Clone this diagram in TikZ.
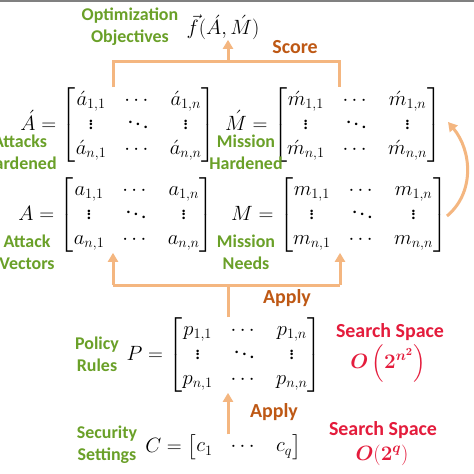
\documentclass[tikz,border=0pt]{standalone}
\usepackage{amsmath,amssymb,bm}
\usepackage{fontspec}
\setmainfont{Carlito}
\usetikzlibrary{arrows.meta,positioning}

\definecolor{lblgreen}{RGB}{106,160,40}
\definecolor{linkorange}{RGB}{244,182,128}
\definecolor{actbrown}{RGB}{190,88,20}
\definecolor{srchred}{RGB}{228,28,60}

\begin{document}
\begin{tikzpicture}[x=1bp,y=1bp,
		lbl/.style={text=lblgreen,font=\bfseries\fontsize{18}{22}\selectfont,align=center,inner sep=0pt},
		mat/.style={font=\fontsize{21}{25}\selectfont\setlength\arraycolsep{9bp},inner sep=0pt},
		act/.style={text=actbrown,font=\bfseries\fontsize{20}{24}\selectfont,inner sep=0pt},
		srch/.style={text=srchred,font=\bfseries\fontsize{20}{24}\selectfont,inner sep=0pt},
		link/.style={draw=linkorange,line width=3bp},
		arr/.style={link,-{Triangle[length=9bp,width=10bp]}}]
		\useasboundingbox (0,0) rectangle (474,-474);
		\clip (0,0) rectangle (474,-474);
		\fill[white] (0,0) rectangle (474,-474);
		\fill[gray] (0,0) rectangle (474,-2.5);

		% objectives
		\node[lbl] (optlbl) at (130,-27) {Optimization\\Objectives};
		\node[mat] (fvec) at (223,-27) {\(\vec{f}(\acute{A},\acute{M})\)};
		\node[act] (score) at (295,-47) {Score};

		% hardened matrices
		\node[mat] (ahard) at (118,-125) {\(\acute{A} = \begin{bmatrix} \acute{a}_{1,1} & \cdots & \acute{a}_{1,n} \\ \vdots & \ddots & \vdots \\ \acute{a}_{n,1} & \cdots & \acute{a}_{n,n} \end{bmatrix}\)};
		\node[mat] (mhard) at (333,-125) {\(\acute{M} = \begin{bmatrix} \acute{m}_{1,1} & \cdots & \acute{m}_{1,n} \\ \vdots & \ddots & \vdots \\ \acute{m}_{n,1} & \cdots & \acute{m}_{n,n} \end{bmatrix}\)};
		\node[lbl] (ahardlbl) at (20,-152) {Attacks\\Hardened};
		\node[lbl] (mhardlbl) at (246,-152) {Mission\\Hardened};

		% original matrices
		\node[mat] (avec) at (116,-215) {\(A = \begin{bmatrix} a_{1,1} & \cdots & a_{1,n} \\ \vdots & \ddots & \vdots \\ a_{n,1} & \cdots & a_{n,n} \end{bmatrix}\)};
		\node[mat] (mvec) at (339,-215) {\(M = \begin{bmatrix} m_{1,1} & \cdots & m_{1,n} \\ \vdots & \ddots & \vdots \\ m_{n,1} & \cdots & m_{n,n} \end{bmatrix}\)};
		\node[lbl] (aveclbl) at (27,-252) {Attack\\Vectors};
		\node[lbl] (mveclbl) at (246,-252) {Mission\\Needs};

		% policy
		\node[act] (apply1) at (287,-298) {Apply};
		\node[mat] (policy) at (224,-355) {\(P = \begin{bmatrix} p_{1,1} & \cdots & p_{1,n} \\ \vdots & \ddots & \vdots \\ p_{n,1} & \cdots & p_{n,n} \end{bmatrix}\)};
		\node[lbl] (policylbl) at (97,-354) {Policy\\Rules};
		\node[srch] (space1) at (390,-332) {Search Space};
		\node[srch,font=\fontsize{21}{25}\selectfont] (order1) at (388,-363) {\(\bm{O}\left(\bm{2^{n^2}}\right)\)};

		% settings
		\node[act] (apply2) at (274,-412) {Apply};
		\node[mat] (settings) at (223,-447) {\(C = \begin{bmatrix} c_1 & \cdots & c_q \end{bmatrix}\)};
		\node[lbl] (settingslbl) at (107,-445) {Security\\Settings};
		\node[srch] (space2) at (383,-430) {Search Space};
		\node[srch,font=\fontsize{21}{25}\selectfont] (order2) at (382,-455) {\(\bm{O}(\bm{2^q})\)};

		% connectors
		\coordinate (scoreL) at (113,-62);
		\coordinate (scoreM) at (228,-62);
		\coordinate (scoreR) at (339,-62);
		\coordinate (applyL) at (113,-285);
		\coordinate (applyM) at (228,-285);
		\coordinate (applyR) at (340,-285);
		\coordinate (loopS) at (447,-216);
		\coordinate (loopE) at (448,-122);
		\draw[link] (ahard.north -| scoreL) -- (scoreL) -- (scoreR) -- (mhard.north -| scoreR);
		\draw[arr] (scoreM) -- (fvec.south -| scoreM);
		\draw[link] (policy.north -| applyM) -- (applyM);
		\draw[link] (applyL) -- (applyR);
		\draw[arr] (applyL) -- (avec.south -| applyL);
		\draw[arr] (applyR) -- (mvec.south -| applyR);
		\draw[arr] (settings.north -| applyM) -- (policy.south -| applyM);
		\draw[arr] (loopS) to[out=40,in=-50] (loopE);
	\end{tikzpicture}
\end{document}
